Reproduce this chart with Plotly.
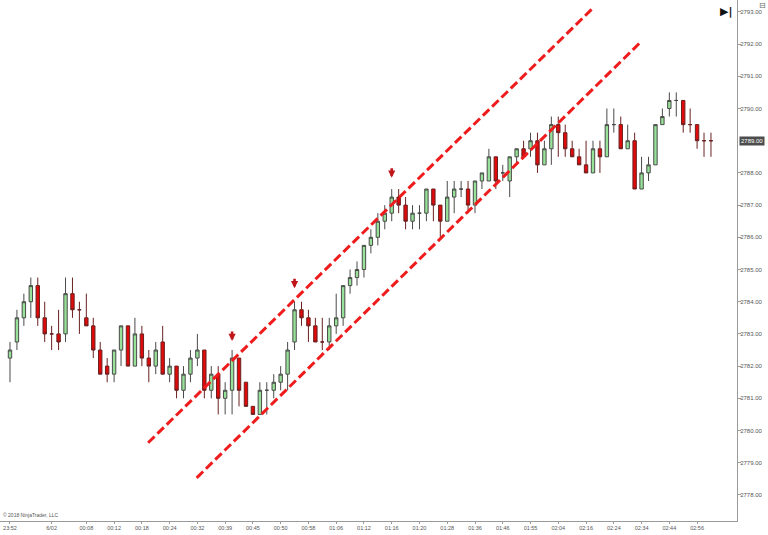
import plotly.graph_objects as go

# ---------------- data ----------------
bar_index = list(range(102))
opens = [2782.25, 2782.75, 2783.50, 2784.00, 2784.50, 2783.50, 2783.00, 2783.00, 2783.00, 2784.25,
         2783.75, 2783.50, 2783.25, 2782.50, 2782.00, 2781.75, 2782.50, 2783.25, 2782.00, 2783.00,
         2782.25, 2782.00, 2782.75, 2781.75, 2782.00, 2781.25, 2781.75, 2782.25, 2782.50, 2781.25,
         2781.75, 2781.00, 2781.25, 2782.25, 2781.50, 2780.75, 2780.50, 2781.25, 2781.25, 2781.50,
         2781.75, 2782.75, 2783.75, 2783.50, 2783.25, 2782.75, 2782.75, 2783.25, 2783.50, 2784.50,
         2784.75, 2785.00, 2785.75, 2786.00, 2786.50, 2786.75, 2787.25, 2787.00, 2786.50, 2786.75,
         2786.75, 2787.50, 2787.00, 2786.50, 2787.25, 2787.50, 2787.50, 2787.00, 2787.75, 2787.75,
         2788.50, 2788.00, 2787.75, 2788.50, 2788.75, 2788.75, 2789.00, 2788.25, 2788.75, 2789.50,
         2789.25, 2788.75, 2788.50, 2788.25, 2788.00, 2788.75, 2788.50, 2789.50, 2789.50, 2788.75,
         2789.00, 2787.50, 2788.00, 2788.25, 2789.50, 2790.00, 2790.25, 2790.25, 2789.50, 2789.50,
         2789.00, 2789.00]
highs = [2782.75, 2783.75, 2784.25, 2784.75, 2784.75, 2784.00, 2783.25, 2783.75, 2784.75, 2784.75,
         2784.00, 2784.25, 2783.50, 2782.75, 2782.25, 2782.50, 2783.25, 2783.25, 2783.50, 2783.25,
         2782.50, 2782.75, 2783.25, 2782.25, 2782.00, 2782.00, 2782.50, 2783.00, 2782.50, 2782.00,
         2782.00, 2781.50, 2782.50, 2782.25, 2781.50, 2780.75, 2781.50, 2781.50, 2781.75, 2782.00,
         2782.75, 2784.00, 2784.00, 2783.75, 2783.50, 2783.50, 2783.50, 2784.25, 2784.50, 2785.00,
         2785.25, 2785.75, 2786.25, 2786.75, 2787.00, 2787.50, 2787.50, 2787.25, 2787.00, 2787.00,
         2787.50, 2787.50, 2787.00, 2787.75, 2787.75, 2787.75, 2787.75, 2787.75, 2788.00, 2788.75,
         2788.50, 2788.25, 2788.50, 2788.75, 2789.00, 2789.25, 2789.25, 2789.00, 2789.75, 2789.75,
         2789.50, 2789.00, 2788.75, 2789.00, 2789.00, 2789.00, 2790.00, 2790.00, 2789.75, 2789.50,
         2789.25, 2788.50, 2788.50, 2789.50, 2790.00, 2790.50, 2790.50, 2790.25, 2790.00, 2789.50,
         2789.25, 2789.25]
lows = [2781.50, 2782.50, 2783.25, 2783.50, 2783.25, 2782.75, 2782.50, 2782.50, 2782.75, 2783.50,
        2783.00, 2783.25, 2782.25, 2781.75, 2781.50, 2781.50, 2782.00, 2782.00, 2782.00, 2782.00,
        2781.50, 2781.75, 2781.75, 2781.50, 2781.00, 2781.00, 2781.50, 2782.00, 2781.00, 2781.00,
        2780.50, 2780.50, 2780.50, 2780.75, 2780.75, 2780.50, 2780.50, 2780.50, 2781.00, 2781.25,
        2781.25, 2782.50, 2783.25, 2782.75, 2782.75, 2782.50, 2782.50, 2783.00, 2783.25, 2784.25,
        2784.50, 2784.75, 2785.50, 2785.75, 2786.25, 2786.50, 2786.75, 2786.25, 2786.25, 2786.25,
        2786.50, 2786.50, 2786.00, 2786.50, 2786.75, 2787.25, 2786.75, 2786.75, 2787.50, 2787.75,
        2787.50, 2787.75, 2787.25, 2788.25, 2788.50, 2788.50, 2788.00, 2788.25, 2788.25, 2788.50,
        2788.50, 2788.50, 2788.25, 2788.00, 2788.00, 2788.00, 2788.50, 2789.25, 2788.75, 2788.75,
        2787.50, 2787.50, 2787.75, 2788.25, 2789.50, 2789.75, 2789.75, 2789.25, 2789.25, 2788.75,
        2788.50, 2788.50]
closes = [2782.50, 2783.50, 2784.00, 2784.50, 2783.50, 2783.00, 2783.00, 2782.75, 2784.25, 2783.75,
          2783.75, 2783.25, 2782.50, 2781.75, 2781.75, 2782.50, 2783.25, 2782.00, 2783.00, 2782.25,
          2782.00, 2782.50, 2781.75, 2782.00, 2781.25, 2781.75, 2782.25, 2782.50, 2781.25, 2781.75,
          2781.00, 2781.25, 2782.25, 2781.25, 2780.75, 2780.50, 2781.25, 2781.25, 2781.50, 2781.75,
          2782.50, 2783.75, 2783.50, 2783.25, 2782.75, 2782.75, 2783.25, 2783.50, 2784.50, 2784.75,
          2785.00, 2785.75, 2786.00, 2786.50, 2786.75, 2787.25, 2787.00, 2786.50, 2786.75, 2786.75,
          2787.50, 2787.00, 2786.50, 2787.25, 2787.50, 2787.50, 2787.00, 2787.75, 2788.00, 2788.50,
          2787.75, 2788.00, 2788.50, 2788.75, 2788.50, 2789.00, 2788.25, 2788.75, 2789.50, 2789.25,
          2788.75, 2788.50, 2788.25, 2788.00, 2788.75, 2788.50, 2789.50, 2789.50, 2788.75, 2789.00,
          2787.50, 2788.00, 2788.25, 2789.50, 2789.75, 2790.25, 2790.25, 2789.50, 2789.50, 2789.00,
          2789.00, 2789.00]

x_tick_bars = [0, 6, 11, 15, 19, 23, 27, 31, 35, 39, 43, 47, 51, 55, 59, 63, 67, 71, 75, 79, 83, 87, 91, 95, 99]
x_tick_labels = ["23:52", "6/02", "00:08", "00:12", "00:18", "00:24", "00:32", "00:39", "00:45",
                 "00:50", "00:58", "01:06", "01:12", "01:16", "01:20", "01:28", "01:36", "01:46",
                 "01:55", "02:04", "02:16", "02:24", "02:34", "02:44", "02:56"]
y_tick_values = [2778, 2779, 2780, 2781, 2782, 2783, 2784, 2785, 2786, 2787, 2788, 2790, 2791, 2792, 2793]
y_tick_labels = ["%.2f" % v for v in y_tick_values]

# signal arrows (bar, price of arrow tip)
arrow_bars = [32, 41, 55]
arrow_prices = [2782.78, 2784.42, 2787.85]

# channel lines (bar, price) endpoints
channel_bars = [19.9, 84.0]
upper_prices = [2779.62, 2793.12]
lower_bars = [26.9, 90.9]
lower_prices = [2778.53, 2792.07]

last_price = 2789.00

# ---------------- figure ----------------
fig = go.Figure()

fig.add_trace(go.Candlestick(
    x=bar_index, open=opens, high=highs, low=lows, close=closes,
    increasing=dict(fillcolor="#98e198", line=dict(color="#4a4a4a", width=1)),
    decreasing=dict(fillcolor="#e00a0a", line=dict(color="#6a2020", width=1)),
    whiskerwidth=0, showlegend=False, hoverinfo="skip",
))

for xs, ys in ((channel_bars, upper_prices), (lower_bars, lower_prices)):
    fig.add_trace(go.Scatter(
        x=xs, y=ys, mode="lines", showlegend=False, hoverinfo="skip",
        line=dict(color="#ee1c1c", width=3, dash="9px,4px"),
    ))

for b, p in zip(arrow_bars, arrow_prices):
    fig.add_annotation(
        x=b, y=p, xref="x", yref="y", text="", showarrow=True,
        ax=0, ay=-11, arrowhead=2, arrowsize=0.55, arrowwidth=2.6, arrowcolor="#c0161a",
    )

fig.add_annotation(
    x=1, y=last_price, xref="paper", yref="y", xanchor="left", yanchor="middle",
    xshift=2, text="%.2f" % last_price, showarrow=False,
    font=dict(size=6, color="white", family="Liberation Sans, Arial"),
    bgcolor="#4d4d4d", borderpad=1,
)

fig.add_annotation(
    x=1, y=1, xref="paper", yref="paper", xanchor="right", yanchor="top", yshift=-3, xshift=-3,
    text="<b>▶|</b>", showarrow=False,
    font=dict(size=11, color="#111111", family="DejaVu Sans"),
)
fig.add_annotation(
    x=1.035, y=1, xref="paper", yref="paper", xanchor="center", yanchor="top", yshift=1,
    text="⊟", showarrow=False,
    font=dict(size=8, color="#666666", family="DejaVu Sans"),
)
fig.add_annotation(
    x=0, y=0, xref="paper", yref="paper", xanchor="left", yanchor="bottom", yshift=1, xshift=1,
    text="© 2018 NinjaTrader, LLC", showarrow=False,
    font=dict(size=5, color="#555555", family="Liberation Sans, Arial"),
)

fig.update_layout(
    width=768, height=535,
    margin=dict(l=0, r=31, t=0, b=14),
    paper_bgcolor="white", plot_bgcolor="white",
    xaxis=dict(
        range=[-1.44, 104.75], rangeslider=dict(visible=False),
        tickmode="array", tickvals=x_tick_bars, ticktext=x_tick_labels,
        showgrid=False, zeroline=False, showline=True, linecolor="#9a9a9a", linewidth=1,
        ticks="outside", ticklen=2, tickcolor="#9a9a9a", ticklabelstandoff=-1,
        tickfont=dict(size=5.5, color="#555555", family="Liberation Sans, Arial"),
    ),
    yaxis=dict(
        range=[2777.19, 2793.37], side="right",
        tickmode="array", tickvals=y_tick_values, ticktext=y_tick_labels,
        showgrid=False, zeroline=False, showline=True, linecolor="#9a9a9a", linewidth=1,
        ticks="outside", ticklen=3, tickcolor="#9a9a9a", ticklabelstandoff=-2,
        tickfont=dict(size=6, color="#555555", family="Liberation Sans, Arial"),
    ),
)

fig.write_html("out.html", config={"displayModeBar": False},
               post_script="document.body.style.margin='0';")
